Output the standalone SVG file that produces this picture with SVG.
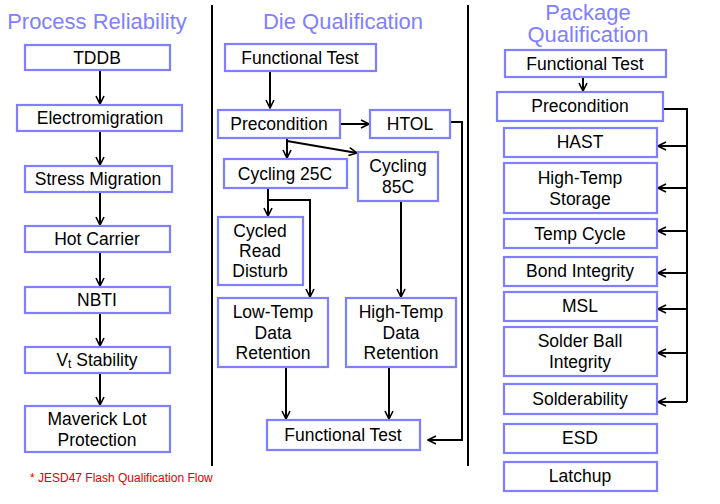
<svg xmlns="http://www.w3.org/2000/svg" width="720" height="504" viewBox="0 0 720 504">
<style>
.b{fill:#fff;stroke:#7f7fff;stroke-width:2.2}
text{font-family:"Liberation Sans",Arial,sans-serif;font-size:17.5px;text-anchor:middle;fill:#000}
.t{font-size:22px;fill:#7f7fff}
.c path,.c line{stroke:#000;stroke-width:2;fill:none}
</style>
<defs><marker id="a" viewBox="0 0 10 10" refX="9" refY="5" markerWidth="5" markerHeight="5" orient="auto"><path d="M1,1 L9,5 L1,9" fill="none" stroke="#000" stroke-width="1.6"/></marker></defs>
<rect width="720" height="504" fill="#fff"/>
<text class="t" x="97" y="29">Process Reliability</text>
<text class="t" x="343" y="29">Die Qualification</text>
<text class="t" x="588" y="20">Package</text>
<text class="t" x="588" y="42">Qualification</text>
<line x1="212" y1="5" x2="212" y2="466" stroke="#000" stroke-width="2"/>
<line x1="468" y1="5" x2="468" y2="466" stroke="#000" stroke-width="2"/>
<g class="c">
<line x1="100" y1="70" x2="100" y2="104" marker-end="url(#a)"/>
<line x1="100" y1="131" x2="100" y2="165" marker-end="url(#a)"/>
<line x1="100" y1="192" x2="100" y2="225" marker-end="url(#a)"/>
<line x1="100" y1="252" x2="100" y2="286" marker-end="url(#a)"/>
<line x1="100" y1="313" x2="100" y2="346" marker-end="url(#a)"/>
<line x1="100" y1="373" x2="100" y2="405" marker-end="url(#a)"/>
<path d="M270,71 V108" marker-end="url(#a)"/>
<path d="M340,124 H369" marker-end="url(#a)"/>
<path d="M450,122 H462 V440 H428" marker-end="url(#a)"/>
<path d="M287,139 V158" marker-end="url(#a)"/>
<path d="M287,141 L357,153" marker-end="url(#a)"/>
<path d="M268,188 V216" marker-end="url(#a)"/>
<path d="M268,200 H310 V297" marker-end="url(#a)"/>
<path d="M401,201 V297" marker-end="url(#a)"/>
<path d="M286,367 V419" marker-end="url(#a)"/>
<path d="M389,367 V419" marker-end="url(#a)"/>
<path d="M583,77 V91" marker-end="url(#a)"/>
<path d="M663,109 H687 V402"/>
<path d="M687,146 H658" marker-end="url(#a)"/>
<path d="M687,188 H658" marker-end="url(#a)"/>
<path d="M687,231 H658" marker-end="url(#a)"/>
<path d="M687,273 H658" marker-end="url(#a)"/>
<path d="M687,309 H658" marker-end="url(#a)"/>
<path d="M687,353 H658" marker-end="url(#a)"/>
<path d="M687,402 H658" marker-end="url(#a)"/>
</g>
<g id="tddb"><rect class="b" x="25" y="45" width="145" height="25"/><text x="97" y="64">TDDB</text></g>
<g id="em"><rect class="b" x="17" y="105" width="165" height="26"/><text x="100" y="124">Electromigration</text></g>
<g id="sm"><rect class="b" x="25" y="166" width="147" height="26"/><text x="98" y="185">Stress Migration</text></g>
<g id="hc"><rect class="b" x="25" y="226" width="145" height="26"/><text x="97" y="245">Hot Carrier</text></g>
<g id="nbti"><rect class="b" x="25" y="287" width="145" height="26"/><text x="97" y="306">NBTI</text></g>
<g id="vt"><rect class="b" x="25" y="347" width="145" height="26"/><text x="97" y="366">V<tspan font-size="12" dy="2">t</tspan><tspan dy="-2"> Stability</tspan></text></g>
<g id="mav"><rect class="b" x="25" y="406" width="145" height="46"/><text x="97" y="425">Maverick Lot</text><text x="97" y="446">Protection</text></g>
<g id="ft1"><rect class="b" x="225" y="44" width="151" height="27"/><text x="300" y="64">Functional Test</text></g>
<g id="pre1"><rect class="b" x="218" y="110" width="122" height="28"/><text x="279" y="130">Precondition</text></g>
<g id="htol"><rect class="b" x="370" y="110" width="80" height="28"/><text x="410" y="130">HTOL</text></g>
<g id="c25"><rect class="b" x="224" y="159" width="123" height="29"/><text x="285" y="180" fill="#0000dd">Cycling 25C</text></g>
<g id="c85"><rect class="b" x="358" y="152" width="80" height="49"/><text x="398" y="172" fill="#ff0000">Cycling</text><text x="398" y="193" fill="#ff0000">85C</text></g>
<g id="crd"><rect class="b" x="218" y="217" width="85" height="68"/><text x="260" y="237">Cycled</text><text x="260" y="257">Read</text><text x="260" y="277">Disturb</text></g>
<g id="ltdr"><rect class="b" x="218" y="298" width="110" height="69"/><text x="273" y="318">Low-Temp</text><text x="273" y="339">Data</text><text x="273" y="359">Retention</text></g>
<g id="htdr"><rect class="b" x="346" y="298" width="110" height="69"/><text x="401" y="318">High-Temp</text><text x="401" y="339">Data</text><text x="401" y="359">Retention</text></g>
<g id="ft2"><rect class="b" x="267" y="420" width="153" height="30"/><text x="343" y="441">Functional Test</text></g>
<g id="ft3"><rect class="b" x="505" y="50" width="161" height="27"/><text x="585" y="70">Functional Test</text></g>
<g id="pre2"><rect class="b" x="497" y="92" width="166" height="29"/><text x="580" y="112">Precondition</text></g>
<g id="hast"><rect class="b" x="504" y="128" width="153" height="29"/><text x="580" y="148">HAST</text></g>
<g id="hts"><rect class="b" x="504" y="163" width="153" height="50"/><text x="580" y="184">High-Temp</text><text x="580" y="205">Storage</text></g>
<g id="tc"><rect class="b" x="504" y="219" width="153" height="29"/><text x="580" y="240">Temp Cycle</text></g>
<g id="bi"><rect class="b" x="504" y="257" width="153" height="29"/><text x="580" y="277">Bond Integrity</text></g>
<g id="msl"><rect class="b" x="504" y="292" width="153" height="29"/><text x="580" y="312">MSL</text></g>
<g id="sbi"><rect class="b" x="504" y="327" width="153" height="49"/><text x="580" y="347">Solder Ball</text><text x="580" y="368">Integrity</text></g>
<g id="sold"><rect class="b" x="504" y="384" width="153" height="30"/><text x="580" y="405">Solderability</text></g>
<g id="esd"><rect class="b" x="504" y="424" width="153" height="29"/><text x="580" y="444">ESD</text></g>
<g id="latch"><rect class="b" x="504" y="462" width="153" height="29"/><text x="580" y="482">Latchup</text></g>
<text x="30" y="482" style="font-size:12px;text-anchor:start;fill:#e00000">* JESD47 Flash Qualification Flow</text>
</svg>
